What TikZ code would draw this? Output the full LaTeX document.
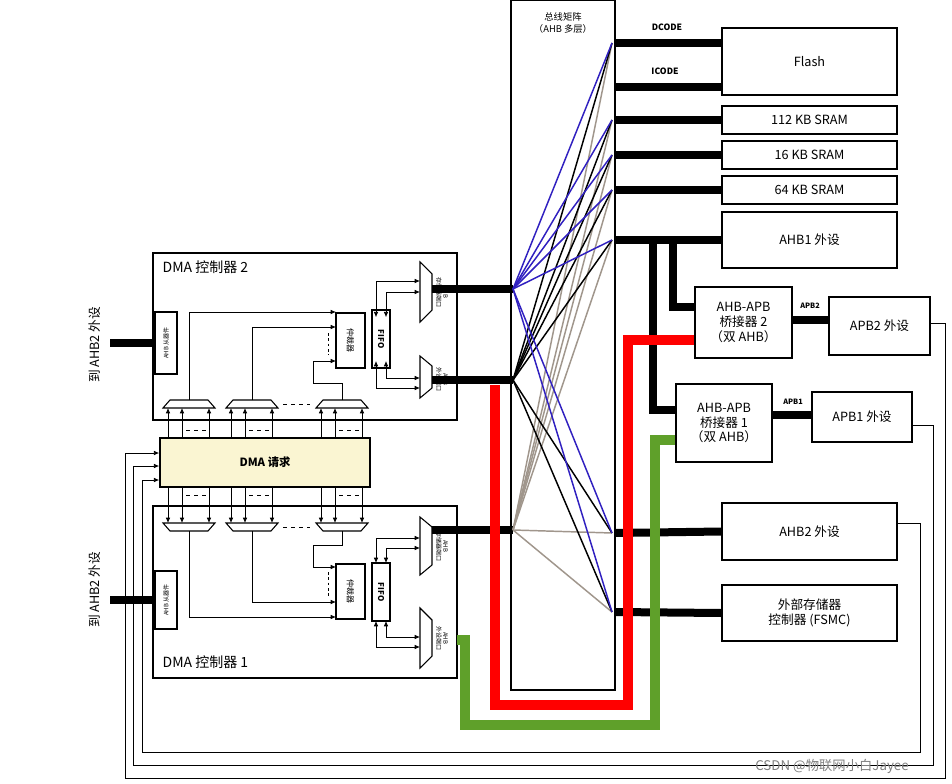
\documentclass[tikz,border=0pt]{standalone}
\usepackage{fontspec}
\setmainfont{Noto Sans CJK SC}
\usetikzlibrary{arrows.meta}
\definecolor{busblue}{RGB}{48,32,192}
\definecolor{busgray}{RGB}{160,150,140}
\definecolor{reqfill}{RGB}{250,245,210}
\definecolor{apbgreen}{RGB}{95,160,42}
\tikzset{
  blk/.style={draw,line width=1.2pt,fill=white,inner sep=1pt,align=center,font=\fontsize{9.5}{11}\selectfont},
  thin/.style={draw,line width=0.8pt},
  bar/.style={line width=6pt},
  lbl/.style={font=\fontsize{6.5}{7}\selectfont\bfseries},
  tiny/.style={font=\fontsize{4.5}{5}\selectfont,align=center,inner sep=0pt},
  sig/.style={line width=0.6pt,-{Latex[length=4pt,width=3.5pt]}},
  dsig/.style={line width=0.6pt,{Latex[length=4pt,width=3.5pt]}-{Latex[length=4pt,width=3.5pt]}},
  fan/.style={line width=1.1pt}
}
\begin{document}
\begin{tikzpicture}[x=0.75pt,y=0.75pt,yscale=-1,xscale=1]
\useasboundingbox (0,0) rectangle (952,784);

% memories and peripherals
\node[blk,minimum width=131.25pt,minimum height=50.25pt] (flash) at (809.5,61.5) {Flash};
\node[blk,minimum width=131.25pt,minimum height=21pt] (sramA) at (809.5,120) {112 KB SRAM};
\node[blk,minimum width=131.25pt,minimum height=21pt] (sramB) at (809.5,155) {16 KB SRAM};
\node[blk,minimum width=131.25pt,minimum height=21pt] (sramC) at (809.5,190) {64 KB SRAM};
\node[blk,minimum width=131.25pt,minimum height=42pt] (ahbA) at (809.5,240) {AHB1 外设};
\node[blk,minimum width=75.75pt,minimum height=43.5pt] (apbB) at (879.5,326) {APB2 外设};
\node[blk,minimum width=75pt,minimum height=37.5pt] (apbA) at (862,417) {APB1 外设};
\node[blk,minimum width=131.25pt,minimum height=42.75pt] (ahbB) at (809.5,531.5) {AHB2 外设};
\node[blk,minimum width=131.25pt,minimum height=42pt] (fsmc) at (809.5,613) {外部存储器\\控制器 (FSMC)};

% bus matrix
\node[blk,minimum width=78pt,minimum height=517.5pt] (matrix) at (563,345) {};
\node[font=\fontsize{7}{8.5}\selectfont,align=center] (matrixlbl) at (563,23) {总线矩阵\\（AHB 多层）};

% DMA controllers and request block
\node[blk,minimum width=228pt,minimum height=125.25pt] (dmaB) at (305,336.5) {};
\node[blk,minimum width=228pt,minimum height=129pt] (dmaA) at (305,592) {};
\node[font=\fontsize{10.5}{12}\selectfont,anchor=west] (dmaBlbl) at (158,267) {DMA 控制器 2};
\node[font=\fontsize{10.5}{12}\selectfont,anchor=west] (dmaAlbl) at (158,662) {DMA 控制器 1};
\node[blk,fill=reqfill,minimum width=157.5pt,minimum height=36.75pt,font=\fontsize{8.5}{10}\selectfont\bfseries] (req) at (265,462.5) {DMA 请求};
\node[blk,line width=1pt,minimum width=16.5pt,minimum height=46.5pt] (slaveB) at (166,343) {};
\node[tiny,rotate=90] at (slaveB) {AHB 从器件};
\node[blk,line width=1pt,minimum width=16.5pt,minimum height=43.5pt] (slaveA) at (166,600) {};
\node[tiny,rotate=90] at (slaveA) {AHB 从器件};
\node[blk,line width=1pt,minimum width=21.75pt,minimum height=41.25pt] (arbB) at (350.5,340.5) {};
\node[tiny,rotate=-90,font=\fontsize{6}{7}\selectfont] at (arbB) {仲裁器};
\node[blk,line width=1pt,minimum width=13.5pt,minimum height=43.5pt] (fifoB) at (381,339) {};
\node[tiny,rotate=-90,font=\fontsize{6}{7}\selectfont\bfseries] at (fifoB) {FIFO};
\node[blk,line width=1pt,minimum width=21.75pt,minimum height=41.25pt] (arbA) at (350.5,591.5) {};
\node[tiny,rotate=-90,font=\fontsize{6}{7}\selectfont] at (arbA) {仲裁器};
\node[blk,line width=1pt,minimum width=13.5pt,minimum height=43.5pt] (fifoA) at (381,592) {};
\node[tiny,rotate=-90,font=\fontsize{6}{7}\selectfont\bfseries] at (fifoA) {FIFO};

% AHB ports
\draw[thin] (420,262) -- (432,274) -- (432,310) -- (420,322) -- cycle;
\draw[thin] (420,356) -- (432,366) -- (432,388) -- (420,398) -- cycle;
\draw[thin] (420,517) -- (432,527) -- (432,565) -- (420,575) -- cycle;
\draw[thin] (420,608) -- (432,620) -- (432,656) -- (420,668) -- cycle;
\node[tiny,rotate=-90] at (442,292) {AHB\\存储器端口};
\node[tiny,rotate=-90] at (442,379) {AHB\\外设端口};
\node[tiny,rotate=-90] at (442,546) {AHB\\存储器端口};
\node[tiny,rotate=-90] at (442,638) {AHB\\外设端口};

% FIFO to ports
\draw[dsig] (376,317.25) |- (420,281);
\draw[dsig] (386,317.25) |- (420,292);
\draw[dsig] (376,361) |- (420,388);
\draw[dsig] (386,361) |- (420,378);
\draw[dsig] (376,563) |- (420,538);
\draw[dsig] (386,563) |- (420,548);
\draw[dsig] (376,621) |- (420,647);
\draw[dsig] (386,621) |- (420,637);

% muxes and request lines
\foreach \cx in {189,252,342}{
  \draw[thin,fill=white] (\cx-26,408) -- (\cx-19,400) -- (\cx+19,400) -- (\cx+26,408) -- cycle;
  \draw[thin,fill=white] (\cx-26,523) -- (\cx-19,531) -- (\cx+19,531) -- (\cx+26,523) -- cycle;
  \foreach \dx in {-21,-7,20}{
    \draw[sig] (\cx+\dx,438) -- (\cx+\dx,408);
    \draw[sig] (\cx+\dx,487) -- (\cx+\dx,523);
  }
  \draw[line width=0.6pt,dash pattern=on 3pt off 3pt] (\cx-3,430) -- (\cx+17,430);
  \draw[line width=0.6pt,dash pattern=on 3pt off 3pt] (\cx-3,495) -- (\cx+17,495);
}
\foreach \y in {404,527}{
  \draw[line width=0.6pt,dash pattern=on 3pt off 3pt] (283,\y) -- (310,\y);
}
% mux outputs to arbiters
\draw[sig] (189,400) |- (336,312);
\draw[sig] (252,400) |- (336,327);
\draw[sig] (342,400) -- (342,383) -- (313,383) |- (336,361);
\draw[line width=0.6pt,dash pattern=on 2pt off 2pt] (328,333) -- (328,355);
\draw[sig] (189,531) |- (336,617);
\draw[sig] (252,531) |- (336,602);
\draw[sig] (342,531) -- (342,545) -- (313,545) |- (336,567);
\draw[line width=0.6pt,dash pattern=on 2pt off 2pt] (328,572) -- (328,596);

% external AHB2 links
\node[rotate=90,font=\fontsize{9.5}{11}\selectfont] (toB) at (95,345) {到 AHB2 外设};
\node[rotate=90,font=\fontsize{9.5}{11}\selectfont] (toA) at (95,590) {到 AHB2 外设};
\draw[bar] (110,343) -- (slaveB.west);
\draw[bar] (110,600) -- (slaveA.west);

% DMA port bars
\coordinate (memB) at (513,289);
\coordinate (perB) at (513,380);
\coordinate (memA) at (513,530);
\draw[bar] (432,289) -- (memB);
\draw[bar] (432,380) -- (perB);
\draw[bar] (432,530) -- (memA);

% slave ports of the matrix
\foreach \n/\y in {tA/43,tB/120,tC/155,tD/190,tE/240,tF/533,tG/612}{
  \coordinate (\n) at (612,\y);
}
\foreach \n in {tA,tB,tC,tD,tE,tF,tG}{
  \draw[fan,busgray] (memA) -- (\n);
  \draw[fan,black] (perB) -- (\n);
  \draw[fan,busblue] (memB) -- (\n);
}
\draw[bar] (615,43) -- (722,43);
\draw[bar] (615,87) -- (722,87);
\draw[bar] (615,120) -- (sramA.west);
\draw[bar] (615,155) -- (sramB.west);
\draw[bar] (615,190) -- (sramC.west);
\draw[bar] (615,240) -- (ahbA.west);
\draw[bar] (615,533) -- (ahbB.west);
\draw[bar] (615,612) -- (fsmc.west);
\draw[bar] (653,240) |- (676,410);
\draw[bar] (673,240) |- (695,307);
\draw[bar] (792,320) -- (apbB.west |- 0,320);
\draw[bar] (772,415) -- (apbA.west |- 0,415);
\node[lbl] at (667,27) {DCODE};
\node[lbl] at (665,71) {ICODE};
\node[lbl,font=\fontsize{5.5}{6}\selectfont\bfseries] at (810,306) {APB2};
\node[lbl,font=\fontsize{5.5}{6}\selectfont\bfseries] at (793,402) {APB1};

% DMA peripheral paths to APB bridges
\draw[red,line width=7.5pt] (695,340) -- (628,340) -- (628,705) -- (495,705) -- (495,385);
\draw[apbgreen,line width=7.5pt] (676,440) -- (655,440) -- (655,725) -- (465,725) -- (465,640) -- (457,640);
\node[blk,minimum width=72.75pt,minimum height=53.25pt] (bridgeB) at (743.5,322.5) {AHB-APB\\桥接器 2\\（双 AHB）};
\node[blk,minimum width=72pt,minimum height=58.5pt] (bridgeA) at (724,423) {AHB-APB\\桥接器 1\\（双 AHB）};

% request feedback lines
\draw[sig] (ahbB.east |- 0,523) -- (920,523) -- (920,752) -- (142,752) |- (req.west |- 0,480);
\draw[sig] (apbA.east |- 0,425) -- (933,425) -- (933,765) -- (133,765) |- (req.west |- 0,466);
\draw[sig] (apbB.east |- 0,323) -- (945,323) -- (945,778) -- (125,778) |- (req.west |- 0,453);

\node[text=gray,font=\fontsize{10}{12}\selectfont] (mark) at (832,766) {CSDN @物联网小白Jayee};
\end{tikzpicture}
\end{document}
